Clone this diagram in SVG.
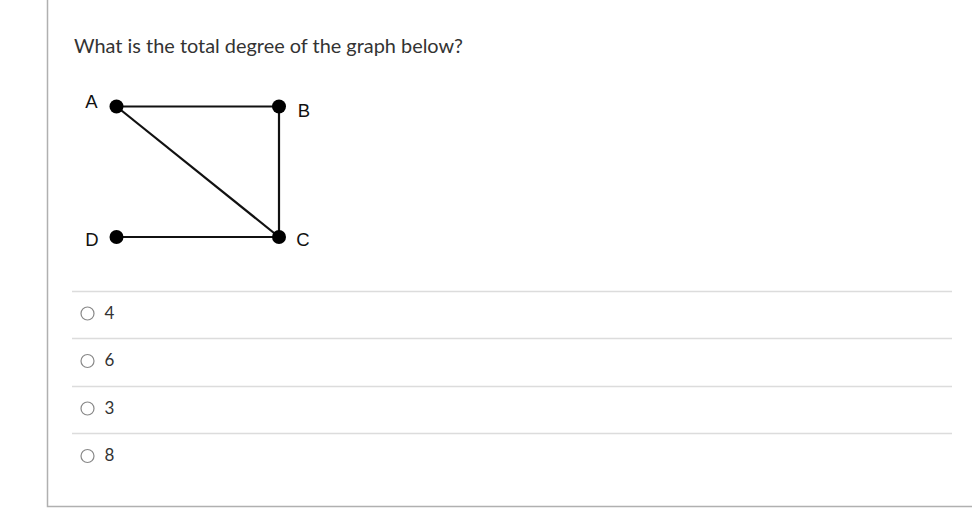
<svg xmlns="http://www.w3.org/2000/svg" width="972" height="511" viewBox="0 0 972 511">
<style>
.q{font-family:Lato,"Liberation Sans",sans-serif;fill:#333;}
.lbl{font-family:"Liberation Sans",Arial,sans-serif;font-size:18.5px;fill:#111;text-anchor:middle;}
.edge{stroke:#111;stroke-width:2.2;fill:none;}
.dot{fill:#000;}
.sep{stroke:#dcdcdc;stroke-width:1.3;}
.radio{fill:#fff;stroke:#888;stroke-width:1.2;}
</style>
<rect width="972" height="511" fill="#fff"/>
<path d="M47.5,0 V506.5 H972" fill="none" stroke="#b0b0b0" stroke-width="1.5"/>
<text class="q" x="74" y="53" font-size="19.9">What is the total degree of the graph below?</text>
<g id="connectors">
<line class="edge" x1="116.5" y1="106.5" x2="279" y2="106.5"/>
<line class="edge" x1="279" y1="106.5" x2="279" y2="237"/>
<line class="edge" x1="116.5" y1="106.5" x2="279" y2="237"/>
<line class="edge" x1="116.5" y1="237" x2="279" y2="237"/>
</g>
<g id="node-A"><circle class="dot" cx="116.5" cy="106.5" r="7"/><text class="lbl" x="91.5" y="108">A</text></g>
<g id="node-B"><circle class="dot" cx="279" cy="106.5" r="7"/><text class="lbl" x="304" y="116.5">B</text></g>
<g id="node-C"><circle class="dot" cx="279" cy="237" r="7"/><text class="lbl" x="303" y="245.5">C</text></g>
<g id="node-D"><circle class="dot" cx="116.5" cy="237" r="7"/><text class="lbl" x="92" y="245.5">D</text></g>
<g id="options">
<line class="sep" x1="72" y1="291.5" x2="952" y2="291.5"/>
<line class="sep" x1="72" y1="338.5" x2="952" y2="338.5"/>
<line class="sep" x1="72" y1="386.5" x2="952" y2="386.5"/>
<line class="sep" x1="72" y1="433.5" x2="952" y2="433.5"/>
<circle class="radio" cx="87.5" cy="313.5" r="6.5"/>
<circle class="radio" cx="87.5" cy="361" r="6.5"/>
<circle class="radio" cx="87.5" cy="408.5" r="6.5"/>
<circle class="radio" cx="87.5" cy="456" r="6.5"/>
<text class="q" x="104.5" y="318.5" font-size="17">4</text>
<text class="q" x="104.5" y="366" font-size="17">6</text>
<text class="q" x="104.5" y="413.5" font-size="17">3</text>
<text class="q" x="104.5" y="461" font-size="17">8</text>
</g>
</svg>
